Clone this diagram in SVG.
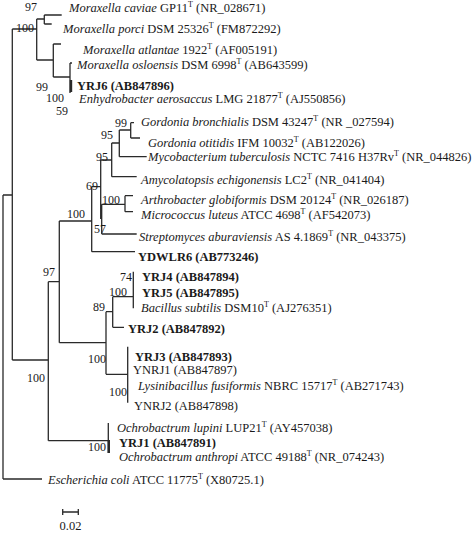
<svg xmlns="http://www.w3.org/2000/svg" width="474" height="535" viewBox="0 0 474 535">
<style>
.t{font-family:"Liberation Serif","Times New Roman",serif;font-size:12.5px;fill:#1a1a1a}
.b{font-family:"Liberation Serif","Times New Roman",serif;font-size:12px;fill:#1a1a1a;text-anchor:end}
.i{font-style:italic}
.bd{font-weight:bold}
.s{font-size:8px}
.e{fill:none;stroke:#2a2a2a;stroke-width:1.3}
.th{fill:none;stroke:#2a2a2a;stroke-width:2.4}
</style>
<rect width="474" height="535" fill="#fff"/>
<g id="connectors">
<path class="e" d="M3 195V479M3 195H12.3M3 479H42M12.3 29V360M12.3 29H36.7M36.7 19V60M36.7 19H44.3M44.3 15V24M44.3 15H61.7M44.3 24H51.7M36.7 60H53.3M53.3 44V77M53.3 44H61M53.3 77H70M70 63V93M70 63H72"/>
<path class="th" d="M71 80V92"/>
<path class="e" d="M12.3 360H48.3M48.3 281.7V440.7M48.3 281.7H59.3M59.3 221V342.7M59.3 221H91.7M91.7 186.7V251.7M91.7 251.7H135M91.7 186.7H100.7M100.7 160V219M100.7 160H111.7M111.7 143V176.7M111.7 176.7H136.7M111.7 143H119.3M119.3 130V156.7M119.3 156.7H146.7M119.3 130H130.7M130.7 122.7V138M130.7 122.7H134M130.7 138H140M101.7 204.3V234M101.7 234H136.7M101.7 204.3H125M125 195.7V211.7M125 195.7H133M125 211.7H133"/>
<path class="e" d="M59.3 342.7H106M106 311.7V374.3M106 311.7H112.7M112.7 296.7V327.3M112.7 327.3H124M112.7 296.7H133.3M133.3 271.7V308.3M106 374.3H127.7M127.7 346.7V402.7M48.3 440.7H108.3M108.3 423V453"/>
<path class="th" d="M108.8 440V453"/>
<path class="e" d="M62.7 512H78.3M62.7 509V515M78.3 509V515"/>
</g>
<g id="bootstrap">
<text class="b" x="37" y="11">97</text>
<text class="b" x="34" y="32">100</text>
<text class="b" x="48" y="91">99</text>
<text class="b" x="64" y="101.5">100</text>
<text class="b" x="68" y="114.5">59</text>
<text class="b" x="127" y="127">99</text>
<text class="b" x="113" y="139">95</text>
<text class="b" x="108" y="161">95</text>
<text class="b" x="98" y="190">69</text>
<text class="b" x="120" y="204">100</text>
<text class="b" x="85" y="218">100</text>
<text class="b" x="106" y="233">57</text>
<text class="b" x="55" y="276">97</text>
<text class="b" x="132" y="281">74</text>
<text class="b" x="127" y="296">100</text>
<text class="b" x="105" y="311">89</text>
<text class="b" x="106" y="363">100</text>
<text class="b" x="45" y="382">100</text>
<text class="b" x="127" y="396">100</text>
<text class="b" x="106" y="451">100</text>
</g>
<g id="n1"><text class="t" x="69" y="12"><tspan class="i">Moraxella caviae</tspan> GP11<tspan class="s" dy="-5">T</tspan><tspan dy="5"> (NR_028671)</tspan></text></g>
<g id="n2"><text class="t" x="63" y="33"><tspan class="i">Moraxella porci</tspan> DSM 25326<tspan class="s" dy="-5">T</tspan><tspan dy="5"> (FM872292)</tspan></text></g>
<g id="n3"><text class="t" x="83" y="54"><tspan class="i">Moraxella atlantae</tspan> 1922<tspan class="s" dy="-5">T</tspan><tspan dy="5"> (AF005191)</tspan></text></g>
<g id="n4"><text class="t" x="77" y="69"><tspan class="i">Moraxella osloensis</tspan> DSM 6998<tspan class="s" dy="-5">T</tspan><tspan dy="5"> (AB643599)</tspan></text></g>
<g id="n5"><text class="t bd" x="77" y="90">YRJ6 (AB847896)</text></g>
<g id="n6"><text class="t" x="79" y="103"><tspan class="i">Enhydrobacter aerosaccus</tspan> LMG 21877<tspan class="s" dy="-5">T</tspan><tspan dy="5"> (AJ550856)</tspan></text></g>
<g id="n7"><text class="t" x="141" y="126"><tspan class="i">Gordonia bronchialis</tspan> DSM 43247<tspan class="s" dy="-5">T</tspan><tspan dy="5"> (NR _027594)</tspan></text></g>
<g id="n8"><text class="t" x="148" y="147"><tspan class="i">Gordonia otitidis</tspan> IFM 10032<tspan class="s" dy="-5">T</tspan><tspan dy="5"> (AB122026)</tspan></text></g>
<g id="n9"><text class="t" x="148" y="161"><tspan class="i">Mycobacterium tuberculosis</tspan> NCTC 7416 H37Rv<tspan class="s" dy="-5">T</tspan><tspan dy="5"> (NR_044826)</tspan></text></g>
<g id="n10"><text class="t" x="141" y="184"><tspan class="i">Amycolatopsis echigonensis</tspan> LC2<tspan class="s" dy="-5">T</tspan><tspan dy="5"> (NR_041404)</tspan></text></g>
<g id="n11"><text class="t" x="141" y="204"><tspan class="i">Arthrobacter globiformis</tspan> DSM 20124<tspan class="s" dy="-5">T</tspan><tspan dy="5"> (NR_026187)</tspan></text></g>
<g id="n12"><text class="t" x="141" y="219"><tspan class="i">Micrococcus luteus</tspan> ATCC 4698<tspan class="s" dy="-5">T</tspan><tspan dy="5"> (AF542073)</tspan></text></g>
<g id="n13"><text class="t" x="139" y="241"><tspan class="i">Streptomyces aburaviensis</tspan> AS 4.1869<tspan class="s" dy="-5">T</tspan><tspan dy="5"> (NR_043375)</tspan></text></g>
<g id="n14"><text class="t bd" x="138" y="261">YDWLR6 (AB773246)</text></g>
<g id="n15"><text class="t bd" x="142" y="281">YRJ4 (AB847894)</text></g>
<g id="n16"><text class="t bd" x="142" y="297">YRJ5 (AB847895)</text></g>
<g id="n17"><text class="t" x="141" y="312"><tspan class="i">Bacillus subtilis</tspan> DSM10<tspan class="s" dy="-5">T</tspan><tspan dy="5"> (AJ276351)</tspan></text></g>
<g id="n18"><text class="t bd" x="128" y="333">YRJ2 (AB847892)</text></g>
<g id="n19"><text class="t bd" x="135" y="361">YRJ3 (AB847893)</text></g>
<g id="n20"><text class="t" x="133" y="374">YNRJ1 (AB847897)</text></g>
<g id="n21"><text class="t" x="138" y="390"><tspan class="i">Lysinibacillus fusiformis</tspan> NBRC 15717<tspan class="s" dy="-5">T</tspan><tspan dy="5"> (AB271743)</tspan></text></g>
<g id="n22"><text class="t" x="134" y="410">YNRJ2 (AB847898)</text></g>
<g id="n23"><text class="t" x="117" y="432"><tspan class="i">Ochrobactrum lupini</tspan> LUP21<tspan class="s" dy="-5">T</tspan><tspan dy="5"> (AY457038)</tspan></text></g>
<g id="n24"><text class="t bd" x="119" y="447">YRJ1 (AB847891)</text></g>
<g id="n25"><text class="t" x="119" y="461"><tspan class="i">Ochrobactrum anthropi</tspan> ATCC 49188<tspan class="s" dy="-5">T</tspan><tspan dy="5"> (NR_074243)</tspan></text></g>
<g id="n26"><text class="t" x="48" y="484"><tspan class="i">Escherichia coli</tspan> ATCC 11775<tspan class="s" dy="-5">T</tspan><tspan dy="5"> (X80725.1)</tspan></text></g>
<g id="scale"><text class="t" x="70.5" y="530" text-anchor="middle">0.02</text></g>
</svg>
